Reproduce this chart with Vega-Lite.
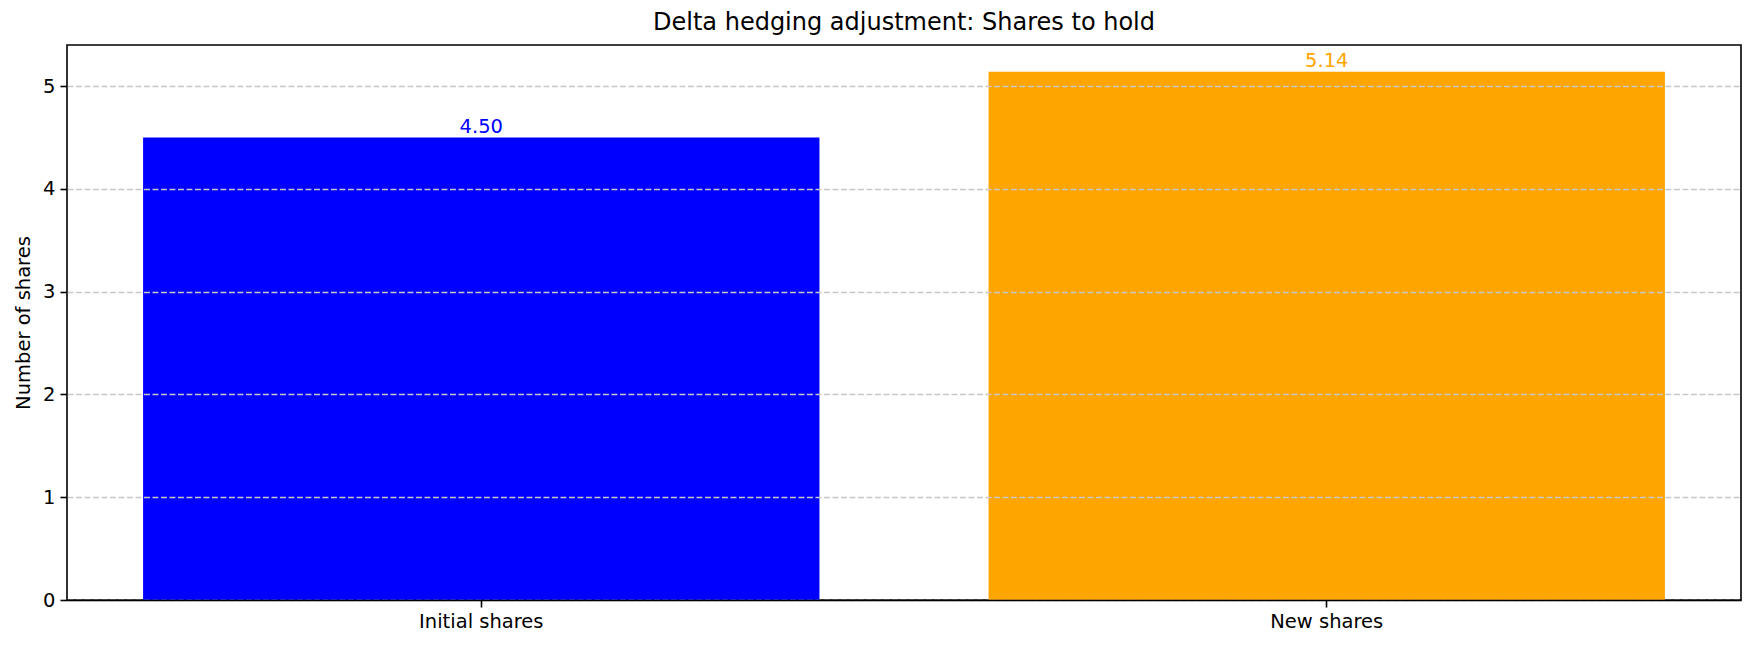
{
  "$schema": "https://vega.github.io/schema/vega-lite/v6.json",
  "autosize": {"type": "none"},
  "padding": {"left": 67, "top": 45, "right": 15, "bottom": 47},
  "width": 1674,
  "height": 555,
  "background": "white",
  "title": {"text": "Delta hedging adjustment: Shares to hold", "fontSize": 24, "fontWeight": "normal", "font": "DejaVu Sans", "color": "black", "offset": 10, "anchor": "middle"},
  "config": {
    "font": "DejaVu Sans",
    "view": {"stroke": "black", "strokeWidth": 1.6},
    "axis": {"domain": false, "tickColor": "black", "tickWidth": 1.6, "tickSize": 7, "labelFontSize": 19.5, "labelColor": "black", "labelPadding": 5, "titleFontSize": 19.5, "titleFontWeight": "normal", "titleColor": "black", "labelFont": "DejaVu Sans", "titleFont": "DejaVu Sans"}
  },
  "data": {
    "values": [
      {"label": "Initial shares", "shares": 4.5},
      {"label": "New shares", "shares": 5.14}
    ]
  },
  "encoding": {
    "x": {"field": "label", "type": "nominal", "sort": null, "title": null,
      "scale": {"paddingInner": 0.2, "paddingOuter": 0.09},
      "axis": {"labelAngle": 0, "grid": false, "domain": true, "domainColor": "black", "domainWidth": 1.6, "zindex": 2}},
    "y": {"field": "shares", "type": "quantitative", "title": "Number of shares",
      "scale": {"domain": [0, 5.4], "nice": false, "zero": true},
      "axis": {"values": [0, 1, 2, 3, 4, 5], "grid": true, "gridColor": "#c8c8c8", "gridDash": [5.9, 2.6], "gridWidth": 1.6, "titlePadding": 9, "zindex": 1}},
    "color": {"field": "label", "type": "nominal", "legend": null,
      "scale": {"domain": ["Initial shares", "New shares"], "range": ["blue", "orange"]}}
  },
  "layer": [
    {"mark": {"type": "bar", "opacity": 1}},
    {"mark": {"type": "text", "baseline": "bottom", "dy": -1, "fontSize": 19.5, "font": "DejaVu Sans"},
      "encoding": {"text": {"field": "shares", "type": "quantitative", "format": ".2f"}}}
  ]
}
